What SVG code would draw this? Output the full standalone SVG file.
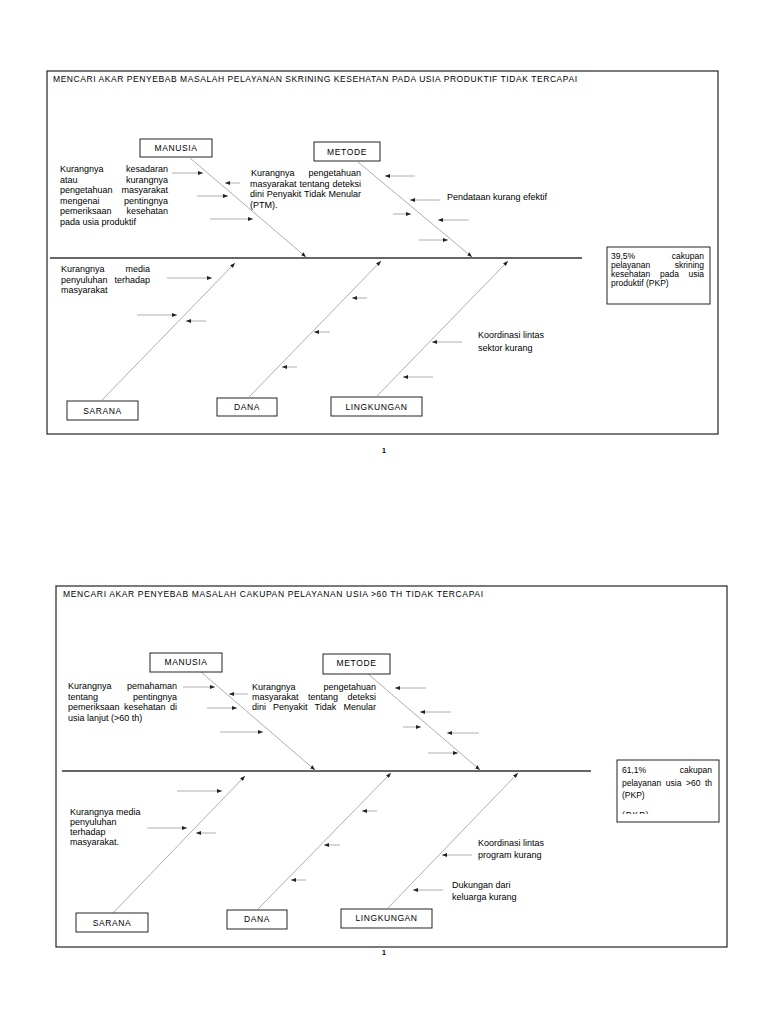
<svg xmlns="http://www.w3.org/2000/svg" width="768" height="1024" viewBox="0 0 768 1024">
<style>
text{font-family:"Liberation Sans",Arial,sans-serif;fill:#000}
.t{font-size:9px}
.s{font-size:8.5px}
.ttl{font-size:8.5px}
.lbl{font-size:8.5px;letter-spacing:0.6px;text-anchor:middle}
.e{text-anchor:end}
.m{text-anchor:middle}
.frame{fill:none;stroke:#222;stroke-width:1.2}
.box{fill:#fff;stroke:#222;stroke-width:1}
.spine{stroke:#666;stroke-width:1.8;fill:none}
.bone{stroke:#999;stroke-width:0.8;fill:none;marker-end:url(#ah)}
.cs{stroke:#9a9a9a;stroke-width:0.8;fill:none;marker-end:url(#ah)}
.pg{font-size:7px;font-weight:bold;text-anchor:middle}
</style>
<defs>
<marker id="ah" markerUnits="userSpaceOnUse" markerWidth="5" markerHeight="4" refX="5" refY="2" orient="auto">
<path d="M0,0 L5,2 L0,4 z" fill="#222"/>
</marker>
<clipPath id="clipb"><rect x="617" y="760" width="102" height="54"/></clipPath>
</defs>
<rect width="768" height="1024" fill="#fff"/>

<!-- ============ TOP DIAGRAM ============ -->
<g id="top-frame">
<rect class="frame" x="47" y="71" width="671" height="363"/>
<text class="ttl" x="53" y="82" textLength="524" lengthAdjust="spacing">MENCARI AKAR PENYEBAB MASALAH PELAYANAN SKRINING KESEHATAN PADA USIA PRODUKTIF TIDAK TERCAPAI</text>
</g>

<g id="top-connectors">
<line class="spine" x1="50" y1="258" x2="582" y2="258"/>
<line class="bone" x1="190" y1="158" x2="306" y2="257"/>
<line class="bone" x1="358" y1="162" x2="472" y2="257"/>
<line class="bone" x1="102" y1="400" x2="235" y2="263"/>
<line class="bone" x1="249" y1="397" x2="381" y2="261"/>
<line class="bone" x1="377" y1="396" x2="508" y2="261"/>
<line class="cs" x1="172" y1="173" x2="203" y2="173"/>
<line class="cs" x1="240" y1="183" x2="225" y2="183"/>
<line class="cs" x1="197" y1="196" x2="228" y2="196"/>
<line class="cs" x1="210" y1="219" x2="253" y2="219"/>
<line class="cs" x1="415" y1="176" x2="385" y2="176"/>
<line class="cs" x1="440" y1="200" x2="410" y2="200"/>
<line class="cs" x1="393" y1="214" x2="411" y2="214"/>
<line class="cs" x1="469" y1="220" x2="438" y2="220"/>
<line class="cs" x1="419" y1="240" x2="448" y2="240"/>
<line class="cs" x1="167" y1="278" x2="212" y2="278"/>
<line class="cs" x1="137" y1="315" x2="177" y2="315"/>
<line class="cs" x1="206" y1="321" x2="186" y2="321"/>
<line class="cs" x1="367" y1="298" x2="352" y2="298"/>
<line class="cs" x1="330" y1="332" x2="314" y2="332"/>
<line class="cs" x1="297" y1="367" x2="282" y2="367"/>
<line class="cs" x1="462" y1="342" x2="432" y2="342"/>
<line class="cs" x1="433" y1="377" x2="403" y2="377"/>
</g>

<g id="top-manusia"><rect class="box" x="140" y="139" width="72" height="18"/><text class="lbl" x="176" y="151">MANUSIA</text></g>
<g id="top-metode"><rect class="box" x="314" y="142" width="66" height="19"/><text class="lbl" x="347" y="155">METODE</text></g>
<g id="top-sarana"><rect class="box" x="67" y="401" width="71" height="19"/><text class="lbl" x="102.5" y="413.5">SARANA</text></g>
<g id="top-dana"><rect class="box" x="217" y="398" width="60" height="18"/><text class="lbl" x="247" y="409.5">DANA</text></g>
<g id="top-lingkungan"><rect class="box" x="331" y="397" width="91" height="19"/><text class="lbl" x="376.5" y="409.5">LINGKUNGAN</text></g>

<g id="top-effect">
<rect class="box" x="607" y="247" width="103" height="57"/>
<text class="s" x="611" y="259">39,5%</text><text class="s e" x="704" y="259">cakupan</text>
<text class="s" x="611" y="268">pelayanan</text><text class="s e" x="704" y="268">skrining</text>
<text class="s" x="611" y="277">kesehatan</text><text class="s" x="660" y="277">pada</text><text class="s e" x="704" y="277">usia</text>
<text class="s" x="611" y="286">produktif (PKP)</text>
</g>

<g id="top-cause-manusia">
<text class="t" x="60" y="172">Kurangnya</text><text class="t e" x="168" y="172">kesadaran</text>
<text class="t" x="60" y="182.5">atau</text><text class="t e" x="168" y="182.5">kurangnya</text>
<text class="t" x="60" y="193">pengetahuan</text><text class="t e" x="168" y="193">masyarakat</text>
<text class="t" x="60" y="203.5">mengenai</text><text class="t e" x="168" y="203.5">pentingnya</text>
<text class="t" x="60" y="214">pemeriksaan</text><text class="t e" x="168" y="214">kesehatan</text>
<text class="t" x="60" y="224.5">pada usia produktif</text>
</g>
<g id="top-cause-metode">
<text class="t" x="251" y="176">Kurangnya</text><text class="t e" x="361" y="176">pengetahuan</text>
<text class="t" x="250" y="186.5">masyarakat</text><text class="t m" x="314.5" y="186.5">tentang</text><text class="t e" x="361" y="186.5">deteksi</text>
<text class="t" x="250" y="197">dini</text><text class="t" x="266.7" y="197">Penyakit</text><text class="t" x="304" y="197">Tidak</text><text class="t e" x="361" y="197">Menular</text>
<text class="t" x="250" y="207.5">(PTM).</text>
</g>
<g id="top-cause-metode2"><text class="t" x="447" y="200">Pendataan kurang efektif</text></g>
<g id="top-cause-sarana">
<text class="t" x="61" y="272">Kurangnya</text><text class="t e" x="150" y="272">media</text>
<text class="t" x="61" y="282.5">penyuluhan</text><text class="t e" x="150" y="282.5">terhadap</text>
<text class="t" x="61" y="293">masyarakat</text>
</g>
<g id="top-cause-lingkungan">
<text class="t" x="478" y="338">Koordinasi lintas</text>
<text class="t" x="478" y="351">sektor kurang</text>
</g>
<text class="pg" x="384" y="453">1</text>

<!-- ============ BOTTOM DIAGRAM ============ -->
<g id="bottom-frame">
<rect class="frame" x="56" y="586" width="671" height="361"/>
<text class="ttl" x="63" y="597" textLength="420" lengthAdjust="spacing">MENCARI AKAR PENYEBAB MASALAH CAKUPAN PELAYANAN USIA &gt;60 TH TIDAK TERCAPAI</text>
</g>

<g id="bottom-connectors">
<line class="spine" x1="62" y1="771" x2="591" y2="771"/>
<line class="bone" x1="201" y1="672" x2="315" y2="770"/>
<line class="bone" x1="367" y1="673" x2="480" y2="770"/>
<line class="bone" x1="113" y1="913" x2="245" y2="776"/>
<line class="bone" x1="258" y1="909" x2="391" y2="773"/>
<line class="bone" x1="388" y1="908" x2="518" y2="773"/>
<line class="cs" x1="183" y1="687" x2="215" y2="687"/>
<line class="cs" x1="248" y1="694" x2="229" y2="694"/>
<line class="cs" x1="207" y1="708" x2="237" y2="708"/>
<line class="cs" x1="220" y1="732" x2="263" y2="732"/>
<line class="cs" x1="426" y1="688" x2="395" y2="688"/>
<line class="cs" x1="451" y1="712" x2="420" y2="712"/>
<line class="cs" x1="403" y1="727" x2="421" y2="727"/>
<line class="cs" x1="479" y1="733" x2="447" y2="733"/>
<line class="cs" x1="428" y1="753" x2="458" y2="753"/>
<line class="cs" x1="177" y1="791" x2="222" y2="791"/>
<line class="cs" x1="147" y1="828" x2="187" y2="828"/>
<line class="cs" x1="216" y1="833" x2="196" y2="833"/>
<line class="cs" x1="377" y1="811" x2="362" y2="811"/>
<line class="cs" x1="340" y1="845" x2="324" y2="845"/>
<line class="cs" x1="306" y1="880" x2="291" y2="880"/>
<line class="cs" x1="472" y1="855" x2="442" y2="855"/>
<line class="cs" x1="443" y1="890" x2="413" y2="890"/>
</g>

<g id="bottom-manusia"><rect class="box" x="150" y="653" width="72" height="19"/><text class="lbl" x="186" y="664.5">MANUSIA</text></g>
<g id="bottom-metode"><rect class="box" x="323" y="654" width="67" height="20"/><text class="lbl" x="356.5" y="665.5">METODE</text></g>
<g id="bottom-sarana"><rect class="box" x="76" y="913" width="72" height="19"/><text class="lbl" x="112" y="925.5">SARANA</text></g>
<g id="bottom-dana"><rect class="box" x="227" y="910" width="60" height="19"/><text class="lbl" x="257" y="921.5">DANA</text></g>
<g id="bottom-lingkungan"><rect class="box" x="341" y="909" width="91" height="19"/><text class="lbl" x="386.5" y="920.5">LINGKUNGAN</text></g>

<g id="bottom-effect">
<rect class="box" x="617" y="760" width="102" height="62"/>
<text class="s" x="622" y="773">61,1%</text><text class="s e" x="712" y="773">cakupan</text>
<text class="s" x="622" y="786">pelayanan</text><text class="s" x="665.8" y="786">usia</text><text class="s" x="686" y="786">&gt;60</text><text class="s e" x="712" y="786">th</text>
<text class="s" x="622" y="798">(PKP)</text>
<text class="s" x="622" y="818" clip-path="url(#clipb)" letter-spacing="1">(PKP)</text>
</g>

<g id="bottom-cause-manusia">
<text class="t" x="68" y="689">Kurangnya</text><text class="t e" x="177" y="689">pemahaman</text>
<text class="t" x="68" y="699.5">tentang</text><text class="t e" x="177" y="699.5">pentingnya</text>
<text class="t" x="68" y="710">pemeriksaan</text><text class="t" x="124" y="710">kesehatan</text><text class="t e" x="177" y="710">di</text>
<text class="t" x="68" y="720.5">usia lanjut (&gt;60 th)</text>
</g>
<g id="bottom-cause-metode">
<text class="t" x="252" y="690">Kurangnya</text><text class="t e" x="376" y="690">pengetahuan</text>
<text class="t" x="252" y="700">masyarakat</text><text class="t m" x="323" y="700">tentang</text><text class="t e" x="376" y="700">deteksi</text>
<text class="t" x="252" y="710">dini</text><text class="t" x="273" y="710">Penyakit</text><text class="t" x="314.5" y="710">Tidak</text><text class="t e" x="376" y="710">Menular</text>
</g>
<g id="bottom-cause-sarana">
<text class="t" x="70" y="815">Kurangnya media</text>
<text class="t" x="70" y="825">penyuluhan</text>
<text class="t" x="70" y="835">terhadap</text>
<text class="t" x="70" y="845">masyarakat.</text>
</g>
<g id="bottom-cause-lingkungan1">
<text class="t" x="478" y="846">Koordinasi lintas</text>
<text class="t" x="478" y="858">program kurang</text>
</g>
<g id="bottom-cause-lingkungan2">
<text class="t" x="452" y="888">Dukungan dari</text>
<text class="t" x="452" y="900">keluarga kurang</text>
</g>
<text class="pg" x="384" y="955">1</text>
</svg>
